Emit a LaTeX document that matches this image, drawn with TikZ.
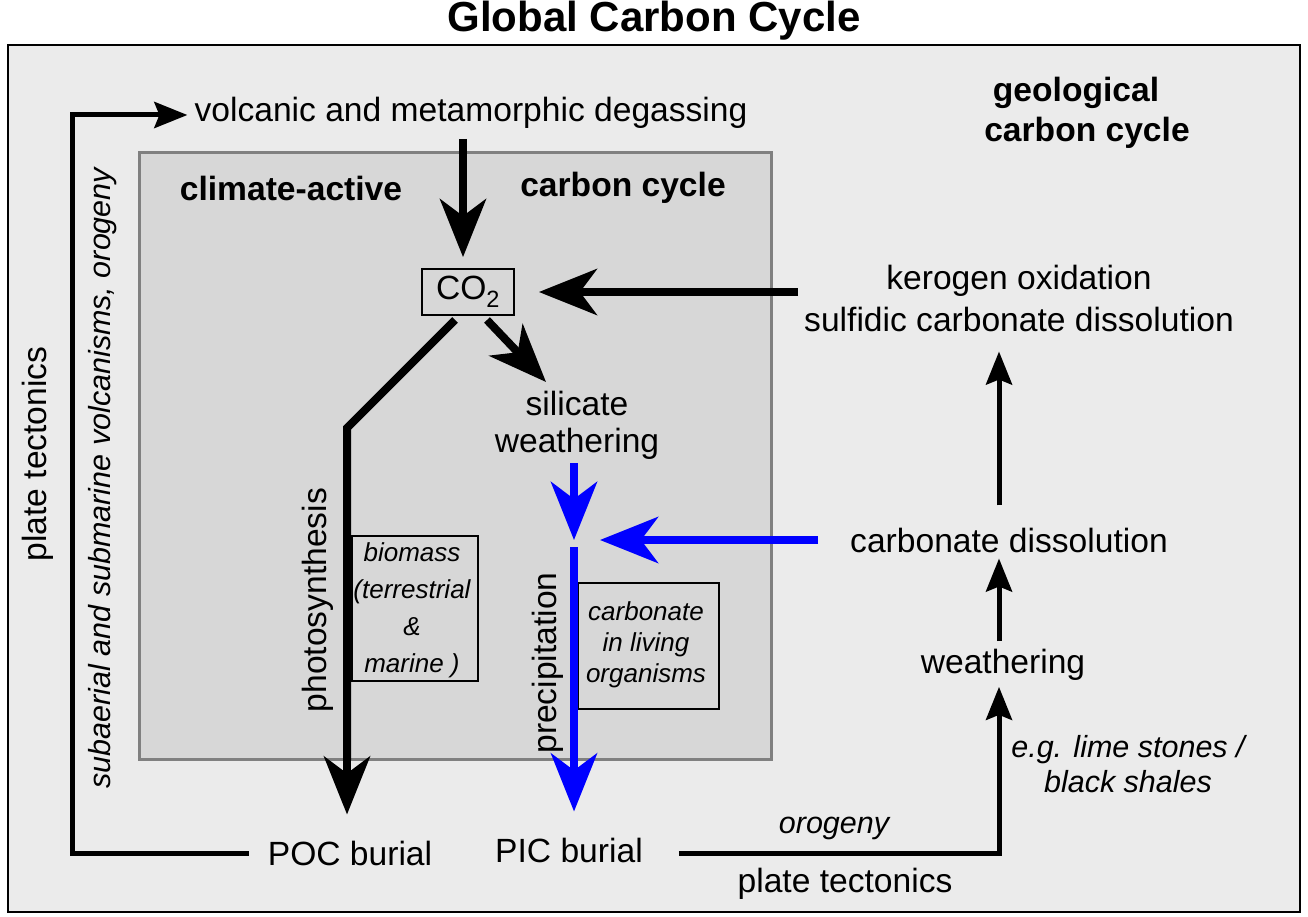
\documentclass[tikz,border=0pt]{standalone}
\usepackage{fontspec}
\setmainfont{Liberation Sans}
\usetikzlibrary{arrows.meta,calc}
\definecolor{outerfill}{HTML}{EBEBEB}
\definecolor{innerfill}{HTML}{D7D7D7}
\definecolor{innerborder}{HTML}{808080}
\definecolor{flowblue}{HTML}{0000FF}
\tikzset{
  txt/.style={font=\fontsize{33.6}{40}\selectfont, inner sep=2pt, align=center},
  btxt/.style={font=\fontsize{33.6}{40}\selectfont\bfseries, inner sep=2pt, align=center},
  itxt/.style={font=\fontsize{30.5}{37}\selectfont\itshape, inner sep=2pt, align=center},
  stxt/.style={font=\fontsize{26}{33}\selectfont\itshape, inner sep=2pt, align=center},
  bigarrow/.style={line width=8pt, -{Stealth[length=58pt,width=46pt,inset=17pt]}},
  bigline/.style={line width=8pt},
  smallarrow/.style={line width=5pt, -{Stealth[length=33pt,width=26pt,inset=5pt]}},
  smallline/.style={line width=5pt},
  infobox/.style={draw=black, line width=1.6pt, fill=innerfill},
}
\begin{document}
\begin{tikzpicture}[x=1pt,y=-1pt]
\useasboundingbox (0,0) rectangle (1308,917);
\fill[white] (0,0) rectangle (1308,917);
% frames
\draw[line width=2.5pt, fill=outerfill] (8,45) rectangle (1300,912);
\draw[line width=3pt, draw=innerborder, fill=innerfill] (139,153) rectangle (771,759);
% title
\node[font=\fontsize{42}{48}\selectfont\bfseries] (title) at (654,21) {Global Carbon Cycle};
% headings
\node[btxt] (geo) at (1076,93) {geological};
\node[btxt] (geo2) at (1087,133) {carbon cycle};
\node[btxt] (ca) at (291,188) {climate-active};
\node[btxt] (cc) at (623,188) {carbon cycle};
% main texts
\node[txt] (degas) at (471,113) {volcanic and metamorphic degassing};
\node[draw=black, line width=1.8pt, fill=innerfill, minimum width=92pt, minimum height=46pt, inner sep=0pt, font=\fontsize{33.6}{40}\selectfont] (co2) at (468,292) {CO\textsubscript{2}};
\node[txt] (ker) at (1019,298) {kerogen oxidation\\[2pt]sulfidic carbonate dissolution};
\node[txt] (sil) at (577,425) {silicate\\[-3pt]weathering};
\node[txt] (cdiss) at (1009,540) {carbonate dissolution};
\node[txt] (weath) at (1003,665) {weathering};
\node[txt] (poc) at (350,853) {POC burial};
\node[txt] (pic) at (569,850) {PIC burial};
% boxes
\node[infobox, minimum width=126pt, minimum height=145pt, inner sep=0pt] (bio) at (415,608.5) {};
\node[stxt, anchor=center] (biot) at (412,610) {biomass\\[4pt](terrestrial\\[4pt]\&\\[4pt]marine )};
\node[infobox, minimum width=141pt, minimum height=126pt, inner sep=0pt] (carb) at (648.5,646) {};
\node[stxt] (carbt) at (646,645) {carbonate\\[-2pt]in living\\[-2pt]organisms};
% rotated labels
\node[txt, rotate=90] (photo) at (318,600) {photosynthesis};
\node[txt, rotate=90] (precip) at (548,663) {precipitation};
\node[txt, rotate=90] (pt1) at (38,454) {plate tectonics};
\node[itxt, rotate=90] (subaer) at (103,478) {subaerial and submarine volcanisms, orogeny};
\node[itxt] (orog) at (834,828) {orogeny};
\node[txt] (pt2) at (845,884) {plate tectonics};
\node[itxt] (eg) at (1128,764) {e.g. lime stones /\\[-2pt]black shales};
% coordinates
\coordinate (d1) at (487,320);
\coordinate (d2) at (546,382);
\coordinate (p1) at (455,320);
\coordinate (p2) at (347,428);
\coordinate (bl) at (72,853);
\coordinate (tl) at (72,115);
\coordinate (br) at (999,853);
\coordinate (bend) at (574,547);
% black connectors
\draw[bigarrow, shorten <=8pt, shorten >=11pt] (degas.south -| 463,0) -- (co2.north -| 463,0);
\draw[bigarrow, shorten >=24pt] (ker.west |- co2.east) ++(-4,0) -- (co2.east);
\draw[bigarrow] (d1) -- (d2);
\draw[bigline, line join=miter] (p1) -- (p2) -- (347,760);
\draw[bigarrow, shorten >=24pt] (347,750) -- (poc.north -| 347,0);
% blue connectors
\draw[bigarrow, draw=flowblue, fill=flowblue, shorten <=2pt] (sil.south -| 574,0) -- (574,540);
\draw[bigarrow, draw=flowblue, fill=flowblue, shorten <=30pt] (cdiss.west) -- (600,540);
\draw[bigline, draw=flowblue] (bend) -- (574,770);
\draw[bigarrow, draw=flowblue, fill=flowblue, shorten >=24pt] (574,760) -- (pic.north -| 574,0);
% right column
\draw[smallarrow, shorten <=6pt, shorten >=4pt] (weath.north -| br) -- (cdiss.south -| br);
\draw[smallarrow, shorten <=20pt, shorten >=18pt] (cdiss.north -| br) -- (ker.south -| br);
\draw[smallarrow, line join=miter, shorten >=4pt] (pic.east |- br) ++(34,0) -- (br) -- (weath.south -| br);
% left loop
\draw[smallarrow, line join=miter, shorten >=5pt] (poc.west) ++(-17,0) -- (bl) -- (tl) -- (degas.west |- tl);
\end{tikzpicture}
\end{document}
